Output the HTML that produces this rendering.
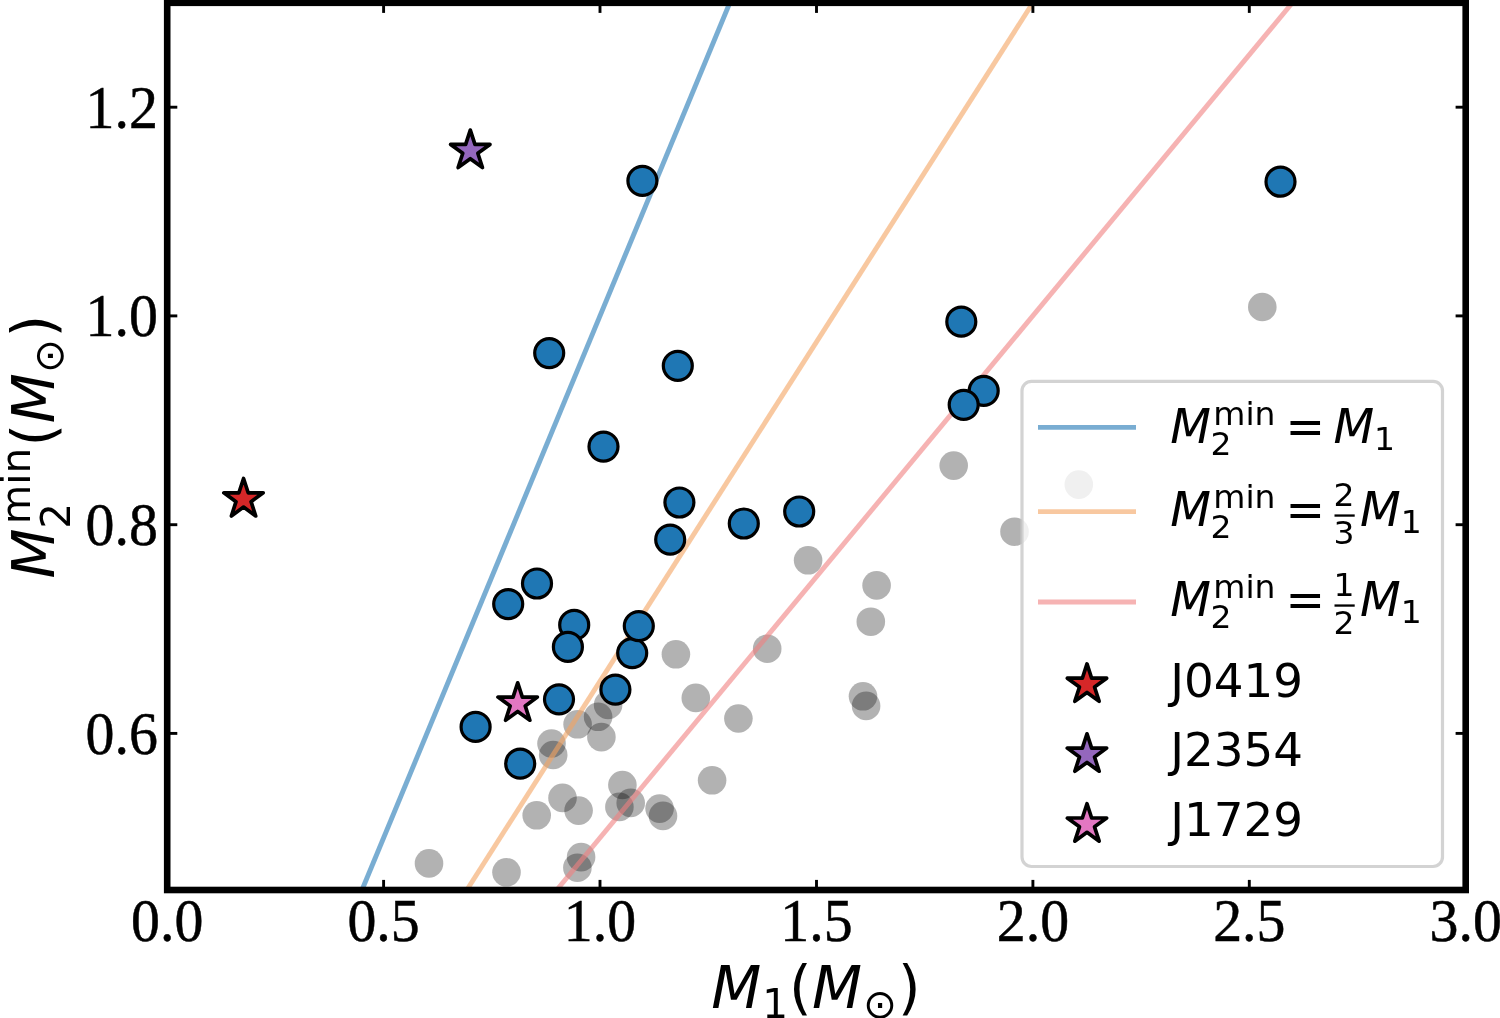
<!DOCTYPE html>
<html><head><meta charset="utf-8"><title>M1 vs M2min</title>
<style>
html,body{margin:0;padding:0;background:#fff;}
body{width:1500px;height:1018px;overflow:hidden;}
svg{display:block;}
.tk{font-family:"Liberation Serif",serif;font-size:60.5px;fill:#000;stroke:#000;stroke-width:0.5px;}
.dj{font-family:"DejaVu Sans","Liberation Sans",sans-serif;fill:#000;}
.it{font-style:italic;}
</style></head><body>
<svg width="1500" height="1018" viewBox="0 0 1500 1018">
<rect width="1500" height="1018" fill="#fff"/>
<defs><clipPath id="ax"><rect x="167.2" y="2.8" width="1298.5" height="887.2"/></clipPath></defs>
<g clip-path="url(#ax)">
<g fill="#000" fill-opacity="0.3">
<circle cx="953.7" cy="465.6" r="14.3"/>
<circle cx="1014.5" cy="531.7" r="14.3"/>
<circle cx="1078.8" cy="484.6" r="14.3"/>
<circle cx="1262.3" cy="307.0" r="14.3"/>
<circle cx="808.1" cy="560.3" r="14.3"/>
<circle cx="876.6" cy="585.4" r="14.3"/>
<circle cx="870.8" cy="621.7" r="14.3"/>
<circle cx="767.2" cy="648.7" r="14.3"/>
<circle cx="863.0" cy="696.3" r="14.3"/>
<circle cx="866.1" cy="705.9" r="14.3"/>
<circle cx="675.9" cy="654.3" r="14.3"/>
<circle cx="695.8" cy="697.9" r="14.3"/>
<circle cx="738.4" cy="718.5" r="14.3"/>
<circle cx="608.1" cy="704.9" r="14.3"/>
<circle cx="598.1" cy="716.8" r="14.3"/>
<circle cx="577.6" cy="724.3" r="14.3"/>
<circle cx="601.4" cy="737.1" r="14.3"/>
<circle cx="551.5" cy="743.5" r="14.3"/>
<circle cx="553.2" cy="755.0" r="14.3"/>
<circle cx="712.1" cy="780.3" r="14.3"/>
<circle cx="622.4" cy="785.0" r="14.3"/>
<circle cx="562.5" cy="797.9" r="14.3"/>
<circle cx="630.7" cy="802.9" r="14.3"/>
<circle cx="619.4" cy="806.9" r="14.3"/>
<circle cx="536.7" cy="815.3" r="14.3"/>
<circle cx="578.6" cy="810.6" r="14.3"/>
<circle cx="659.6" cy="808.6" r="14.3"/>
<circle cx="663.0" cy="815.9" r="14.3"/>
<circle cx="581.1" cy="857.1" r="14.3"/>
<circle cx="577.4" cy="867.7" r="14.3"/>
<circle cx="429.0" cy="863.4" r="14.3"/>
<circle cx="506.5" cy="872.3" r="14.3"/>
</g>
<line x1="362.0" y1="890.0" x2="729.8" y2="2.8" stroke="#1f77b4" stroke-opacity="0.6" stroke-width="4.9"/>
<line x1="466.8" y1="890.0" x2="1032.9" y2="2.8" stroke="#f4a460" stroke-opacity="0.6" stroke-width="4.9"/>
<line x1="556.7" y1="890.0" x2="1292.4" y2="2.8" stroke="#f08080" stroke-opacity="0.6" stroke-width="4.9"/>
<g fill="#1f77b4" stroke="#000" stroke-width="3.2">
<circle cx="642.4" cy="180.8" r="14.5"/>
<circle cx="549.2" cy="353.1" r="14.5"/>
<circle cx="677.8" cy="365.8" r="14.5"/>
<circle cx="603.5" cy="446.6" r="14.5"/>
<circle cx="679.4" cy="502.5" r="14.5"/>
<circle cx="670.2" cy="539.6" r="14.5"/>
<circle cx="743.8" cy="523.5" r="14.5"/>
<circle cx="799.2" cy="511.5" r="14.5"/>
<circle cx="537.0" cy="583.5" r="14.5"/>
<circle cx="508.2" cy="604.1" r="14.5"/>
<circle cx="574.2" cy="624.9" r="14.5"/>
<circle cx="567.9" cy="646.9" r="14.5"/>
<circle cx="632.2" cy="653.1" r="14.5"/>
<circle cx="638.8" cy="626.1" r="14.5"/>
<circle cx="615.4" cy="689.6" r="14.5"/>
<circle cx="559.0" cy="699.3" r="14.5"/>
<circle cx="475.6" cy="726.9" r="14.5"/>
<circle cx="520.2" cy="763.7" r="14.5"/>
<circle cx="1280.5" cy="181.7" r="14.5"/>
<circle cx="961.3" cy="321.7" r="14.5"/>
<circle cx="983.7" cy="390.8" r="14.5"/>
<circle cx="963.7" cy="404.8" r="14.5"/>
</g>
<polygon points="243.55,478.50 248.20,492.80 263.24,492.80 251.07,501.64 255.72,515.95 243.55,507.11 231.38,515.95 236.03,501.64 223.86,492.80 238.90,492.80" fill="#d62728" stroke="#000" stroke-width="3.7" stroke-linejoin="round"/>
<polygon points="470.30,130.10 474.95,144.40 489.99,144.40 477.82,153.24 482.47,167.55 470.30,158.71 458.13,167.55 462.78,153.24 450.61,144.40 465.65,144.40" fill="#9467bd" stroke="#000" stroke-width="3.7" stroke-linejoin="round"/>
<polygon points="517.70,682.80 522.35,697.10 537.39,697.10 525.22,705.94 529.87,720.25 517.70,711.41 505.53,720.25 510.18,705.94 498.01,697.10 513.05,697.10" fill="#e377c2" stroke="#000" stroke-width="3.7" stroke-linejoin="round"/>
</g>
<g stroke="#000" stroke-width="2.9">
<line x1="167.2" y1="890.0" x2="167.2" y2="879.9"/>
<line x1="167.2" y1="2.8" x2="167.2" y2="12.9"/>
<line x1="383.6" y1="890.0" x2="383.6" y2="879.9"/>
<line x1="383.6" y1="2.8" x2="383.6" y2="12.9"/>
<line x1="600.0" y1="890.0" x2="600.0" y2="879.9"/>
<line x1="600.0" y1="2.8" x2="600.0" y2="12.9"/>
<line x1="816.5" y1="890.0" x2="816.5" y2="879.9"/>
<line x1="816.5" y1="2.8" x2="816.5" y2="12.9"/>
<line x1="1032.9" y1="890.0" x2="1032.9" y2="879.9"/>
<line x1="1032.9" y1="2.8" x2="1032.9" y2="12.9"/>
<line x1="1249.3" y1="890.0" x2="1249.3" y2="879.9"/>
<line x1="1249.3" y1="2.8" x2="1249.3" y2="12.9"/>
<line x1="1465.7" y1="890.0" x2="1465.7" y2="879.9"/>
<line x1="1465.7" y1="2.8" x2="1465.7" y2="12.9"/>
<line x1="167.2" y1="733.4" x2="177.3" y2="733.4"/>
<line x1="1465.7" y1="733.4" x2="1455.6" y2="733.4"/>
<line x1="167.2" y1="524.7" x2="177.3" y2="524.7"/>
<line x1="1465.7" y1="524.7" x2="1455.6" y2="524.7"/>
<line x1="167.2" y1="315.9" x2="177.3" y2="315.9"/>
<line x1="1465.7" y1="315.9" x2="1455.6" y2="315.9"/>
<line x1="167.2" y1="107.2" x2="177.3" y2="107.2"/>
<line x1="1465.7" y1="107.2" x2="1455.6" y2="107.2"/>
</g>
<rect x="167.2" y="2.8" width="1298.5" height="887.2" fill="none" stroke="#000" stroke-width="6.6"/>
<text class="tk" transform="translate(167.2,940.6) scale(0.956,1)" text-anchor="middle">0.0</text>
<text class="tk" transform="translate(383.6,940.6) scale(0.956,1)" text-anchor="middle">0.5</text>
<text class="tk" transform="translate(600.0,940.6) scale(0.956,1)" text-anchor="middle">1.0</text>
<text class="tk" transform="translate(816.5,940.6) scale(0.956,1)" text-anchor="middle">1.5</text>
<text class="tk" transform="translate(1032.9,940.6) scale(0.956,1)" text-anchor="middle">2.0</text>
<text class="tk" transform="translate(1249.3,940.6) scale(0.956,1)" text-anchor="middle">2.5</text>
<text class="tk" transform="translate(1465.7,940.6) scale(0.956,1)" text-anchor="middle">3.0</text>
<text class="tk" transform="translate(157.8,753.7) scale(0.956,1)" text-anchor="end">0.6</text>
<text class="tk" transform="translate(157.8,545.0) scale(0.956,1)" text-anchor="end">0.8</text>
<text class="tk" transform="translate(157.8,336.2) scale(0.956,1)" text-anchor="end">1.0</text>
<text class="tk" transform="translate(157.8,127.5) scale(0.956,1)" text-anchor="end">1.2</text>
<g class="dj">
<text class="it" x="711.3" y="1008" font-size="58">M</text>
<text x="762.2" y="1017.5" font-size="40.6">1</text>
<text x="789" y="1008" font-size="58">(</text>
<text class="it" x="812" y="1008" font-size="58">M</text>
<text x="863" y="1017.5" font-size="40.6">⊙</text>
<text x="898" y="1008" font-size="58">)</text>
</g>
<g class="dj" transform="translate(53.7,578.6) rotate(-90)">
<text class="it" x="0" y="0" font-size="58">M</text>
<text x="54.4" y="-24.2" font-size="40.6">min</text>
<text x="49.9" y="16.3" font-size="40.6">2</text>
<text x="132.2" y="0" font-size="58">(</text>
<text class="it" x="155.4" y="0" font-size="58">M</text>
<text x="205.7" y="8.9" font-size="40.6">⊙</text>
<text x="241.1" y="0" font-size="58">)</text>
</g>
<rect x="1022" y="381.4" width="420.5" height="485.1" rx="9.5" ry="9.5" fill="#fff" fill-opacity="0.8" stroke="#c8c8c8" stroke-opacity="0.8" stroke-width="3.2"/>
<line x1="1038" y1="427.4" x2="1136" y2="427.4" stroke="#1f77b4" stroke-opacity="0.6" stroke-width="4.8"/>
<line x1="1038" y1="511.6" x2="1136" y2="511.6" stroke="#f4a460" stroke-opacity="0.6" stroke-width="4.8"/>
<line x1="1038" y1="602.0" x2="1136" y2="602.0" stroke="#f08080" stroke-opacity="0.6" stroke-width="4.8"/>
<polygon points="1087.00,663.90 1091.65,678.20 1106.69,678.20 1094.52,687.04 1099.17,701.35 1087.00,692.51 1074.83,701.35 1079.48,687.04 1067.31,678.20 1082.35,678.20" fill="#d62728" stroke="#000" stroke-width="3.7" stroke-linejoin="round"/>
<polygon points="1087.00,733.80 1091.65,748.10 1106.69,748.10 1094.52,756.94 1099.17,771.25 1087.00,762.41 1074.83,771.25 1079.48,756.94 1067.31,748.10 1082.35,748.10" fill="#9467bd" stroke="#000" stroke-width="3.7" stroke-linejoin="round"/>
<polygon points="1087.00,803.70 1091.65,818.00 1106.69,818.00 1094.52,826.84 1099.17,841.15 1087.00,832.31 1074.83,841.15 1079.48,826.84 1067.31,818.00 1082.35,818.00" fill="#e377c2" stroke="#000" stroke-width="3.7" stroke-linejoin="round"/>
<g class="dj">
<text class="it" x="1170.3" y="443.2" font-size="47.2">M</text>
<text transform="translate(1213.3,424.5) scale(1,0.945)" font-size="33.0">min</text>
<text transform="translate(1210.6,455.0) scale(1,0.945)" font-size="33.0">2</text>
<text x="1285.5" y="443.2" font-size="47.2">=</text>
<text class="it" x="1333.5" y="443.2" font-size="47.2">M</text>
<text transform="translate(1374.0,450.2) scale(1,0.945)" font-size="33.0">1</text>
<text class="it" x="1170.3" y="526.4" font-size="47.2">M</text>
<text transform="translate(1213.3,507.7) scale(1,0.945)" font-size="33.0">min</text>
<text transform="translate(1210.6,538.2) scale(1,0.945)" font-size="33.0">2</text>
<text x="1285.5" y="526.4" font-size="47.2">=</text>
<text transform="translate(1333.5,505.5) scale(1,0.945)" font-size="33.0">2</text>
<rect x="1334.5" y="514.4" width="20.2" height="2.3"/>
<text transform="translate(1333.5,543.7) scale(1,0.945)" font-size="33.0">3</text>
<text class="it" x="1359.9" y="526.4" font-size="47.2">M</text>
<text transform="translate(1400.7,533.4) scale(1,0.945)" font-size="33.0">1</text>
<text class="it" x="1170.3" y="616.4" font-size="47.2">M</text>
<text transform="translate(1213.3,597.7) scale(1,0.945)" font-size="33.0">min</text>
<text transform="translate(1210.6,628.2) scale(1,0.945)" font-size="33.0">2</text>
<text x="1285.5" y="616.4" font-size="47.2">=</text>
<text transform="translate(1333.5,595.5) scale(1,0.945)" font-size="33.0">1</text>
<rect x="1334.5" y="604.4" width="20.2" height="2.3"/>
<text transform="translate(1333.5,633.7) scale(1,0.945)" font-size="33.0">2</text>
<text class="it" x="1359.9" y="616.4" font-size="47.2">M</text>
<text transform="translate(1400.7,623.4) scale(1,0.945)" font-size="33.0">1</text>
<text x="1170.2" y="696.5" font-size="46.8">J0419</text>
<text x="1170.2" y="766.0" font-size="46.8">J2354</text>
<text x="1170.2" y="835.5" font-size="46.8">J1729</text>
</g>
</svg></body></html>
